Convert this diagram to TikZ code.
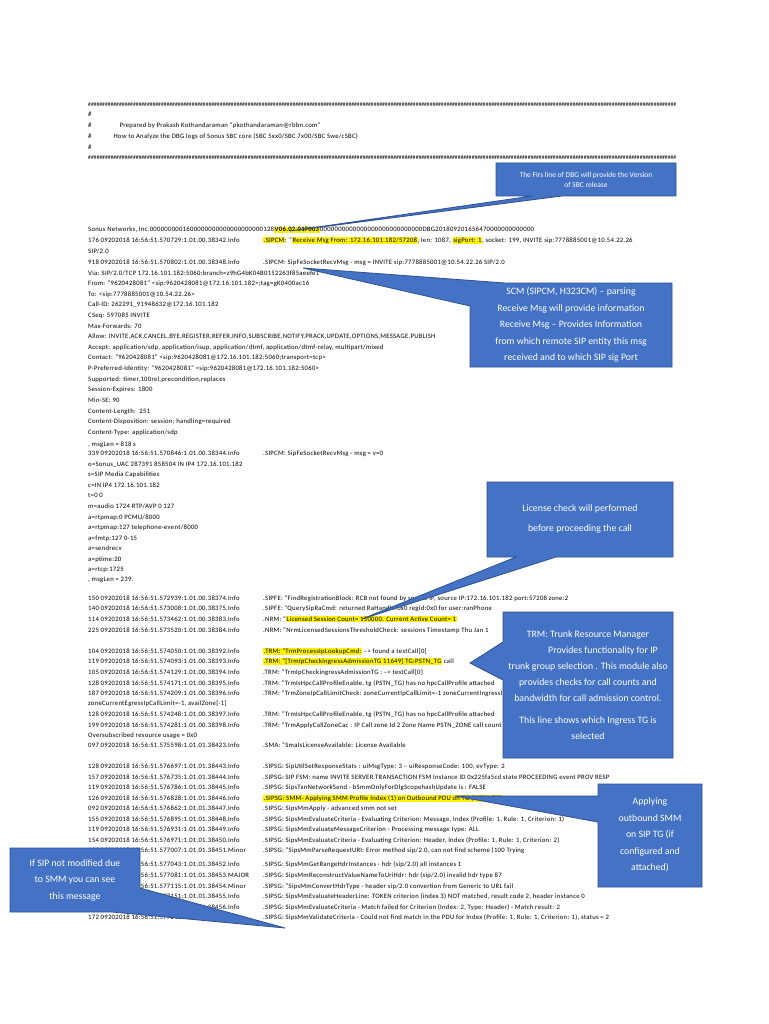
\documentclass[tikz,border=0pt]{standalone}
\usepackage{fontspec}
\setmainfont{Carlito}
\usepackage{xcolor}
\definecolor{cfill}{HTML}{4472C4}
\definecolor{cedge}{HTML}{2F528F}
\newcounter{ln}
\newcommand\hl[1]{{\setlength{\fboxsep}{0.6pt}\colorbox{yellow}{#1}}}
\newcommand\LA[2]{\stepcounter{ln}\node[logt] (a\arabic{ln}) at (88,#1) {#2};}
\newcommand\LB[3]{\stepcounter{ln}\node[logt] (a\arabic{ln}) at (88,#1) {#2};\node[logt] (b\arabic{ln}) at (263,#1) {#3};}
\newcommand\hashes{\hbox to 588pt{\xleaders\hbox{\#}\hfill}}
\begin{document}
\begin{tikzpicture}[x=1pt,y=-1pt,
  logt/.style={anchor=base west,inner sep=0pt,font=\fontsize{6.7}{7}\selectfont\addfontfeature{LetterSpace=4}},
  call/.style={fill=cfill,draw=cedge,line width=0.8pt},
  ctext/.style={text=white,align=center,inner sep=0pt}]
\useasboundingbox (0,0) rectangle (768,1024);
\fill[white] (0,0) rectangle (768,1024);
% header
\node[logt,font=\fontsize{5.6}{6}\selectfont] (h1) at (88,107) {\hashes};
\node[logt] (h2) at (88,117) {\#};
\node[logt] (h3) at (88,128) {\#\hspace{28pt}Prepared by Prakash Kothandaraman ``pkothandaraman@rbbn.com''};
\node[logt] (h4) at (88,139) {\#\hspace{22pt}How to Analyze the DBG logs of Sonus SBC core (SBC 5xx0/SBC 7x00/SBC Swe/cSBC)};
\node[logt] (h5) at (88,150) {\#};
\node[logt,font=\fontsize{5.6}{6}\selectfont] (h6) at (88,160) {\hashes};
% block 1
\LA{232}{Sonus Networks, Inc.0000000001600000000000000000000128\hl{\textbf{V06.02.01F003}}0000000000000000000000000000DBG201809201656470000000000000}
\LB{242}{176 09202018 16:56:51.570729:1.01.00.38342.Info}{\hl{.SIPCM}: "\hl{Receive Msg From: 172.16.101.182/57208}, len: 1087, \hl{sigPort: 1}, socket: 199, INVITE sip:7778885001@10.54.22.26}
\LA{253}{SIP/2.0}
\LB{264}{918 09202018 16:56:51.570802:1.01.00.38348.Info}{.SIPCM: SipFeSocketRecvMsg - msg = INVITE sip:7778885001@10.54.22.26 SIP/2.0}
\LA{275}{Via: SIP/2.0/TCP 172.16.101.182:5060;branch=z9hG4bK04B0152263f85aeefe1}
\LA{285}{From: "9620428081" <sip:9620428081@172.16.101.182>;tag=gK0400ac16}
\LA{296}{To: <sip:7778885001@10.54.22.26>}
\LA{306}{Call-ID: 262291\_91948632@172.16.101.182}
\LA{317}{CSeq: 597085 INVITE}
\LA{328}{Max-Forwards: 70}
\LA{338}{Allow: INVITE,ACK,CANCEL,BYE,REGISTER,REFER,INFO,SUBSCRIBE,NOTIFY,PRACK,UPDATE,OPTIONS,MESSAGE,PUBLISH}
\LA{349}{Accept: application/sdp, application/isup, application/dtmf, application/dtmf-relay, multipart/mixed}
\LA{359}{Contact: "9620428081" <sip:9620428081@172.16.101.182:5060;transport=tcp>}
\LA{370}{P-Preferred-Identity: "9620428081" <sip:9620428081@172.16.101.182:5060>}
\LA{381}{Supported: timer,100rel,precondition,replaces}
\LA{391}{Session-Expires: 1800}
\LA{402}{Min-SE: 90}
\LA{413}{Content-Length:\ \ 251}
\LA{423}{Content-Disposition: session; handling=required}
\LA{434}{Content-Type: application/sdp}
% block 2
\LA{446}{, msgLen = 818 s}
\LB{455}{339 09202018 16:56:51.570846:1.01.00.38344.Info}{.SIPCM: SipFeSocketRecvMsg - msg = v=0}
\LA{466}{o=Sonus\_UAC 287391 858504 IN IP4 172.16.101.182}
\LA{476}{s=SIP Media Capabilities}
\LA{487}{c=IN IP4 172.16.101.182}
\LA{497}{t=0 0}
\LA{508}{m=audio 1724 RTP/AVP 0 127}
\LA{519}{a=rtpmap:0 PCMU/8000}
\LA{529}{a=rtpmap:127 telephone-event/8000}
\LA{540}{a=fmtp:127 0-15}
\LA{550}{a=sendrecv}
\LA{561}{a=ptime:20}
\LA{571}{a=rtcp:1725}
\LA{581}{, msgLen = 239.}
% block 3
\LB{600}{150 09202018 16:56:51.572939:1.01.00.38374.Info}{.SIPFE: "FindRegistrationBlock: RCB not found by source IP, source IP:172.16.101.182 port:57208 zone:2}
\LB{610}{140 09202018 16:56:51.573008:1.01.00.38375.Info}{.SIPFE: "QuerySipRaCmd: returned RaHandle:0x0 regId:0x0 for user:ranPhone}
\LB{621}{114 09202018 16:56:51.573462:1.01.00.38383.Info}{.NRM: "\hl{Licensed Session Count= 150000. Current Active Count= 1}}
\LB{632}{225 09202018 16:56:51.573520:1.01.00.38384.Info}{.NRM: "NrmLicensedSessionsThresholdCheck: sessions Timestamp Thu Jan 1}
% block 4
\LB{653}{104 09202018 16:56:51.574050:1.01.00.38392.Info}{\hl{.TRM: "TrmProcessIpLookupCmd:} --> found a testCall[0]}
\LB{663}{119 09202018 16:56:51.574093:1.01.00.38393.Info}{\hl{.TRM: "[TrmIpCheckingressAdmissionTG 11649] TG:PSTN\_TG} call}
\LB{674}{105 09202018 16:56:51.574129:1.01.00.38394.Info}{.TRM: "TrmIpCheckingressAdmissionTG : --> testCall[0]}
\LB{685}{128 09202018 16:56:51.574171:1.01.00.38395.Info}{.TRM: "TrmIsHpcCallProfileEnable, tg (PSTN\_TG) has no hpcCallProfile attached}
\LB{695}{187 09202018 16:56:51.574209:1.01.00.38396.Info}{.TRM: "TrmZoneIpCallLimitCheck: zoneCurrentIpCallLimit=-1 zoneCurrentIngressIpCallLimit=-1}
\LA{705}{zoneCurrentEgressIpCallLimit=-1, availZone[-1]}
\LB{716}{128 09202018 16:56:51.574248:1.01.00.38397.Info}{.TRM: "TrmIsHpcCallProfileEnable, tg (PSTN\_TG) has no hpcCallProfile attached}
\LB{727}{199 09202018 16:56:51.574281:1.01.00.38398.Info}{.TRM: "TrmApplyCallZoneCac : IP Call zone Id 2 Zone Name PSTN\_ZONE call count}
\LA{737}{Oversubscribed resource usage = 0x0}
\LB{747}{097 09202018 16:56:51.575598:1.01.01.38423.Info}{.SMA: "SmaIsLicenseAvailable: License Available}
% block 5
\LB{768}{128 09202018 16:56:51.576697:1.01.01.38443.Info}{.SIPSG: SipUtilSetResponseStats : uiMsgType: 3 -- uiResponseCode: 100, evType: 2}
\LB{779}{157 09202018 16:56:51.576735:1.01.01.38444.Info}{.SIPSG: SIP FSM: name INVITE SERVER TRANSACTION FSM Instance ID 0x225fa5cd state PROCEEDING event PROV RESP}
\LB{789}{119 09202018 16:56:51.576786:1.01.01.38445.Info}{.SIPSG: SipsTxnNetworkSend - bSmmOnlyForDlgScopehashUpdate is : FALSE}
\LB{800}{126 09202018 16:56:51.576828:1.01.01.38446.Info}{\hl{.SIPSG: SMM- Applying SMM Profile Index (1) on Outbound PDU on TG (PSTN\_TG)}}
\LB{810}{092 09202018 16:56:51.576862:1.01.01.38447.Info}{.SIPSG: SipsMmApply - advanced smm not set}
\LB{821}{155 09202018 16:56:51.576895:1.01.01.38448.Info}{.SIPSG: SipsMmEvaluateCriteria - Evaluating Criterion: Message, Index (Profile: 1, Rule: 1, Criterion: 1)}
\LB{831}{119 09202018 16:56:51.576931:1.01.01.38449.Info}{.SIPSG: SipsMmEvaluateMessageCriterion - Processing message type: ALL}
\LB{842}{154 09202018 16:56:51.576971:1.01.01.38450.Info}{.SIPSG: SipsMmEvaluateCriteria - Evaluating Criterion: Header, Index (Profile: 1, Rule: 1, Criterion: 2)}
\LB{852}{139 09202018 16:56:51.577007:1.01.01.38451.Minor}{.SIPSG: "SipsMmParseRequestURI: Error method sip/2.0, can not find scheme (100 Trying}
\LB{866}{124 09202018 16:56:51.577043:1.01.01.38452.Info}{.SIPSG: SipsMmGetRangeHdrInstances - hdr (sip/2.0) all instances 1}
\LB{877}{136 09202018 16:56:51.577081:1.01.01.38453.MAJOR}{.SIPSG: SipsMmReconstructValueNameToUriHdr: hdr (sip/2.0) invalid hdr type 87}
\LB{888}{141 09202018 16:56:51.577115:1.01.01.38454.Minor}{.SIPSG: "SipsMmConvertHdrType - header sip/2.0 convertion from Generic to URL fail}
\LB{898}{162 09202018 16:56:51.577151:1.01.01.38455.Info}{.SIPSG: SipsMmEvaluateHeaderLine: TOKEN criterion (index 3) NOT matched, result code 2, header instance 0}
\LB{909}{167 09202018 16:56:51.577185:1.01.01.38456.Info}{.SIPSG: SipsMmEvaluateCriteria - Match failed for Criterion (Index: 2, Type: Header) - Match result: 2}
\LB{919}{172 09202018 16:56:51.577218:1.01.01.38457.Info}{.SIPSG: SipsMmValidateCriteria - Could not find match in the PDU for Index (Profile: 1, Rule: 1, Criterion: 1), status = 2}
% callouts
\draw[call] (496,163) -- (676,163) -- (676,196) -- (562,196) -- (290,231) -- (532,196) -- (496,196) -- cycle;
\node[ctext,font=\fontsize{7.5}{10.5}\selectfont] (c1) at (586,180) {The Firs line of DBG will provide the Version\\of SBC release};
\draw[call] (505,283) -- (672,283) -- (672,367) -- (470,367) -- (470,306) -- (303,268) -- cycle;
\node[ctext,font=\fontsize{9.8}{16.5}\selectfont] (c2) at (571,325) {SCM (SIPCM, H323CM) – parsing\\Receive Msg will provide information\\Receive Msg – Provides Information\\from which remote SIP entity this msg\\received and to which SIP sig Port};
\draw[call] (487,482) -- (673,482) -- (673,557) -- (556,557) -- (362,619) -- (516,557) -- (487,557) -- cycle;
\node[ctext,font=\fontsize{9.8}{20}\selectfont] (c3) at (580,519) {License check will performed\\before proceeding the call};
\draw[call] (503,612) -- (673,612) -- (673,758) -- (503,758) -- (503,680) -- (470,663) -- (503,642) -- cycle;
\node[ctext,font=\fontsize{9.8}{16}\selectfont] (c4) at (588,685) {TRM: Trunk Resource Manager\hspace{20pt}\\\hspace{30pt}Provides functionality for IP\\trunk group selection . This module also\\provides checks for call counts and\\bandwidth for call admission control.\\[6pt]This line shows which Ingress TG is\\selected};
\draw[call] (598,784) -- (702,784) -- (702,887) -- (598,887) -- (598,822) -- (455,796) -- (598,796) -- cycle;
\node[ctext,font=\fontsize{9.8}{16.5}\selectfont] (c5) at (650,835) {Applying\\outbound SMM\\on SIP TG (if\\configured and\\attached)};
\draw[call] (10,848) -- (140,848) -- (140,888) -- (285,928) -- (112,912) -- (10,912) -- cycle;
\node[ctext,font=\fontsize{9.8}{16.5}\selectfont] (c6) at (75,880) {If SIP not modified due\\to SMM you can see\\this message};
\end{tikzpicture}
\end{document}
